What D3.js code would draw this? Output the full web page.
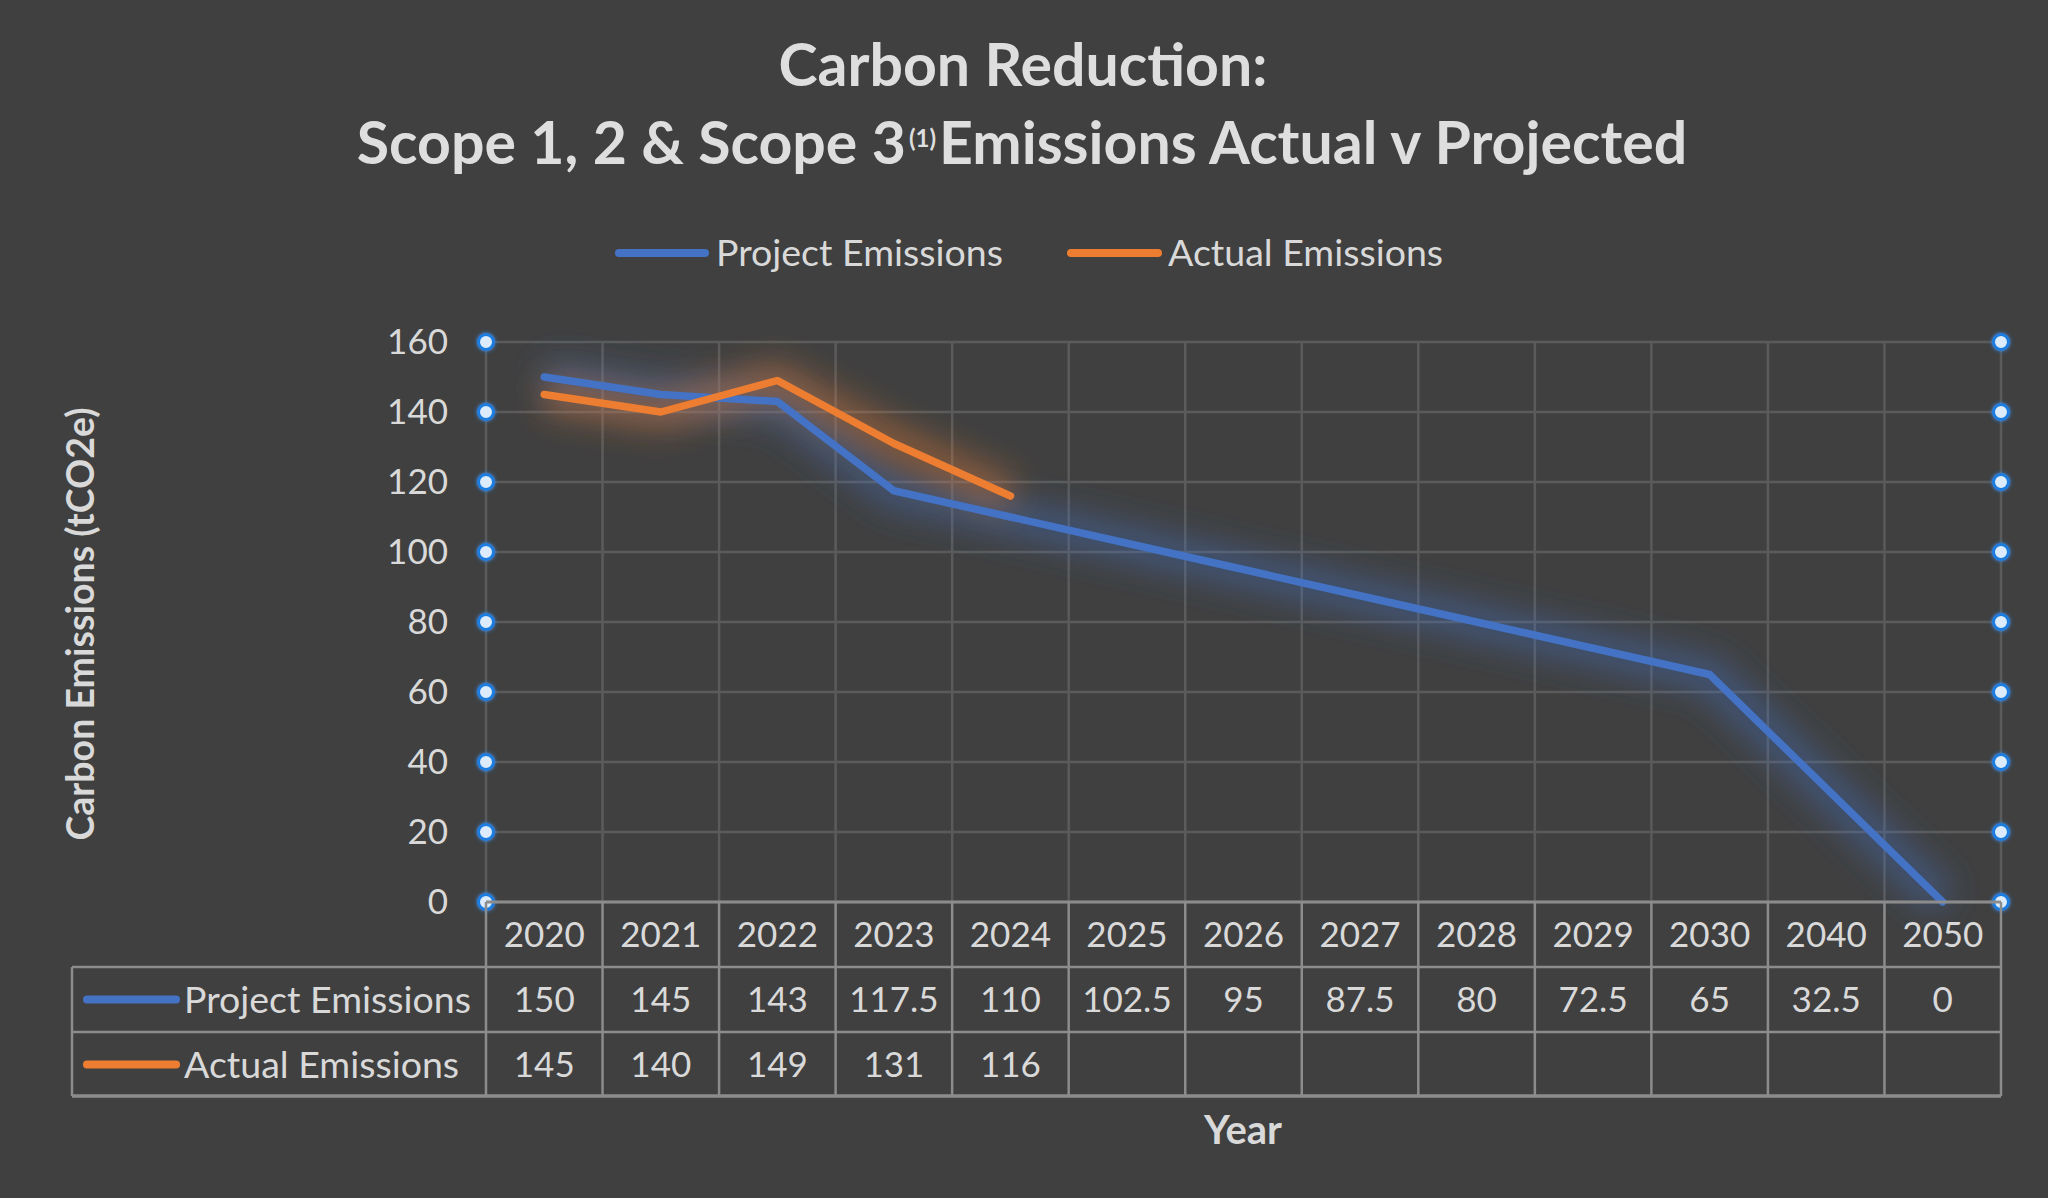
<!DOCTYPE html>
<html>
<head>
<meta charset="utf-8">
<script src="https://cdn.jsdelivr.net/npm/d3@7/dist/d3.min.js"></script>
<style>
  html, body { margin: 0; padding: 0; background: #404040; }
  svg { display: block; }
  text { font-family: Lato, "Open Sans", sans-serif; }
</style>
</head>
<body>
<svg id="chart" width="2048" height="1198"></svg>
<script>
// ---------- data ----------
const years = ["2020","2021","2022","2023","2024","2025","2026","2027","2028","2029","2030","2040","2050"];
const projected = [150, 145, 143, 117.5, 110, 102.5, 95, 87.5, 80, 72.5, 65, 32.5, 0];
const actual = [145, 140, 149, 131, 116];
const seriesNames = ["Project Emissions", "Actual Emissions"];
const seriesColors = ["#4472c4", "#ed7d31"];
const yTicks = [0, 20, 40, 60, 80, 100, 120, 140, 160];
const titleLine1 = "Carbon Reduction:";
const titleLine2a = "Scope 1, 2 & Scope 3";
const titleSup = "(1)";
const titleLine2b = "Emissions Actual v Projected";
const yTitle = "Carbon Emissions (tCO2e)";
const xTitle = "Year";

// ---------- layout ----------
const W = 2048, H = 1198;
const plot = { left: 486, right: 2001, top: 342, bottom: 902 };
const rowH = 65;
const tableLeft = 72;
const textColor = "#d9d9d9";
const gridColor = "#5b5b5b";
const tableLine = "#8c8c8c";

const svg = d3.select("#chart");
svg.append("rect").attr("width", W).attr("height", H).attr("fill", "#404040");

const defs = svg.append("defs");
const glow = defs.append("filter").attr("id", "glow")
  .attr("filterUnits", "userSpaceOnUse")
  .attr("x", 0).attr("y", 0).attr("width", W).attr("height", H);
glow.append("feGaussianBlur").attr("stdDeviation", 16);

const dotGlow = defs.append("filter").attr("id", "dotglow")
  .attr("x", "-100%").attr("y", "-100%").attr("width", "300%").attr("height", "300%");
dotGlow.append("feGaussianBlur").attr("in", "SourceGraphic").attr("stdDeviation", 2).attr("result", "b");
const m = dotGlow.append("feMerge");
m.append("feMergeNode").attr("in", "b");
m.append("feMergeNode").attr("in", "SourceGraphic");

const x = d3.scaleBand().domain(years).range([plot.left, plot.right]).padding(0);
const y = d3.scaleLinear().domain([0, 160]).range([plot.bottom, plot.top]);
const cx = d => x(d) + x.bandwidth() / 2;

// ---------- title ----------
svg.append("text").attr("x", 1023).attr("y", 86).attr("text-anchor", "middle")
  .attr("font-size", 59).attr("font-weight", 700).attr("fill", "#dedede")
  .text(titleLine1);
const t2 = svg.append("text").attr("x", 1022).attr("y", 164).attr("text-anchor", "middle")
  .attr("font-size", 59).attr("font-weight", 700).attr("fill", "#dedede");
t2.append("tspan").text(titleLine2a);
t2.append("tspan").attr("font-size", 24).attr("dy", -17).attr("dx", 3).text(titleSup);
t2.append("tspan").attr("dy", 17).attr("dx", 3).text(titleLine2b);

// ---------- legend ----------
const legendItems = [
  { name: seriesNames[0], color: seriesColors[0], x1: 619, x2: 705, tx: 716 },
  { name: seriesNames[1], color: seriesColors[1], x1: 1071, x2: 1158, tx: 1168 }
];
const lg = svg.append("g");
legendItems.forEach(it => {
  lg.append("line").attr("x1", it.x1).attr("x2", it.x2).attr("y1", 253).attr("y2", 253)
    .attr("stroke", it.color).attr("stroke-width", 8).attr("stroke-linecap", "round");
  lg.append("text").attr("x", it.tx).attr("y", 266).attr("font-size", 37.5)
    .attr("fill", textColor).text(it.name);
});

// ---------- grid ----------
const grid = svg.append("g");
grid.selectAll("line.h").data(yTicks).join("line")
  .attr("x1", plot.left).attr("x2", plot.right)
  .attr("y1", d => y(d)).attr("y2", d => y(d))
  .attr("stroke", gridColor).attr("stroke-width", 2.5);
const vb = years.map(d => x(d)).concat([plot.right]);
grid.selectAll("line.v").data(vb).join("line")
  .attr("x1", d => d).attr("x2", d => d)
  .attr("y1", plot.top).attr("y2", plot.bottom)
  .attr("stroke", gridColor).attr("stroke-width", 2.5);

// ---------- y axis labels ----------
const yAxis = d3.axisLeft(y).tickValues(yTicks).tickSize(0).tickPadding(38);
const yg = svg.append("g").attr("transform", `translate(${plot.left},0)`).call(yAxis);
yg.select(".domain").remove();
yg.selectAll("text").attr("font-size", 35).attr("fill", textColor)
  .attr("font-family", "Lato, 'Open Sans', sans-serif");

svg.append("text")
  .attr("transform", `translate(94,624) rotate(-90)`)
  .attr("text-anchor", "middle").attr("font-size", 37.5).attr("font-weight", 700)
  .attr("fill", textColor).text(yTitle);

// ---------- lines ----------
const lineGen = d3.line().x((d, i) => cx(years[i])).y(d => y(d));
const series = [projected, actual];
series.forEach((vals, k) => {
  svg.append("path").attr("d", lineGen(vals)).attr("fill", "none")
    .attr("stroke", seriesColors[k]).attr("stroke-width", 36).attr("stroke-opacity", 0.42)
    .attr("stroke-linejoin", "round").attr("filter", "url(#glow)");
});
series.forEach((vals, k) => {
  svg.append("path").attr("d", lineGen(vals)).attr("fill", "none")
    .attr("stroke", seriesColors[k]).attr("stroke-width", 7.5)
    .attr("stroke-linejoin", "round").attr("stroke-linecap", "round");
});

// ---------- axis handle dots ----------
[plot.left, plot.right].forEach(px => {
  svg.append("g").selectAll("circle").data(yTicks).join("circle")
    .attr("cx", px).attr("cy", d => y(d)).attr("r", 7.5)
    .attr("fill", "#dcecfc").attr("stroke", "#1a7de0").attr("stroke-width", 3)
    .attr("filter", "url(#dotglow)");
});

// ---------- data table ----------
const tg = svg.append("g");
const rowTop = plot.bottom;       // header row top
const r1 = rowTop + rowH;         // first data row top
const r2 = r1 + rowH;
const r3 = r2 + rowH - 1;         // bottom
tg.append("line").attr("x1", plot.left).attr("x2", plot.right).attr("y1", rowTop).attr("y2", rowTop)
  .attr("stroke", tableLine).attr("stroke-width", 3);
[r1, r2].forEach(yy => tg.append("line").attr("x1", tableLeft).attr("x2", plot.right)
  .attr("y1", yy).attr("y2", yy).attr("stroke", tableLine).attr("stroke-width", 2.5));
tg.append("line").attr("x1", tableLeft).attr("x2", plot.right).attr("y1", r3).attr("y2", r3)
  .attr("stroke", tableLine).attr("stroke-width", 3.5);
tg.append("line").attr("x1", tableLeft).attr("x2", tableLeft).attr("y1", r1).attr("y2", r3)
  .attr("stroke", tableLine).attr("stroke-width", 2.5);
vb.forEach(xx => tg.append("line").attr("x1", xx).attr("x2", xx).attr("y1", rowTop).attr("y2", r3)
  .attr("stroke", tableLine).attr("stroke-width", 2.5));

// header years
tg.selectAll("text.yr").data(years).join("text")
  .attr("x", d => cx(d)).attr("y", rowTop + rowH / 2 + 12)
  .attr("text-anchor", "middle").attr("font-size", 35).attr("fill", textColor)
  .text(d => d);
// values
series.forEach((vals, k) => {
  const rt = k === 0 ? r1 : r2;
  tg.append("g").selectAll("text").data(vals).join("text")
    .attr("x", (d, i) => cx(years[i])).attr("y", rt + rowH / 2 + 12)
    .attr("text-anchor", "middle").attr("font-size", 35).attr("fill", textColor)
    .text(d => d);
  tg.append("line").attr("x1", 87).attr("x2", 176)
    .attr("y1", rt + rowH / 2).attr("y2", rt + rowH / 2)
    .attr("stroke", seriesColors[k]).attr("stroke-width", 8).attr("stroke-linecap", "round");
  tg.append("text").attr("x", 184).attr("y", rt + rowH / 2 + 13)
    .attr("font-size", 37.5).attr("fill", textColor).text(seriesNames[k]);
});

// x title
svg.append("text").attr("x", 1243).attr("y", 1144).attr("text-anchor", "middle")
  .attr("font-size", 40).attr("font-weight", 700).attr("fill", textColor).text(xTitle);
</script>
</body>
</html>
